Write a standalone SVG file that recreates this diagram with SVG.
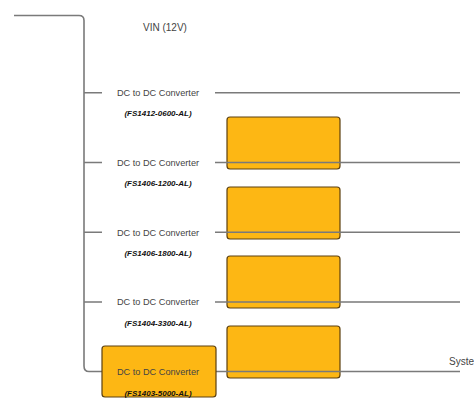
<svg xmlns="http://www.w3.org/2000/svg" width="474" height="412" viewBox="0 0 474 412">
<style>
.ln{fill:none;stroke:#7a7a7a;stroke-width:1.6}
.box{fill:#fdb714;stroke:#5c4010;stroke-width:1.2}
.t{font-family:"Liberation Sans",Arial,sans-serif;font-size:9.2px;fill:#444;text-anchor:middle}
.s{font-family:"Liberation Sans",Arial,sans-serif;font-size:8px;font-weight:bold;font-style:italic;fill:#111;text-anchor:middle}
.v{font-family:"Liberation Sans",Arial,sans-serif;font-size:10px;fill:#444}
</style>
<rect width="474" height="412" fill="#fff"/>
<g id="out-boxes">
<rect id="b1" class="box" x="227" y="117" width="113" height="52" rx="3"/>
<rect id="b2" class="box" x="227" y="187" width="113" height="52" rx="3"/>
<rect id="b3" class="box" x="227" y="256" width="113" height="52" rx="3"/>
<rect id="b4" class="box" x="227" y="326" width="113" height="52" rx="3"/>
</g>
<g id="connectors">
<path class="ln" d="M14 15.5 H79 Q84 15.5 84 20.5 V366 Q84 371.5 89 371.5 H102"/>
<path class="ln" d="M84 92.8 H102 M215 92.8 H460"/>
<path class="ln" d="M84 162.5 H102 M215 162.5 H460"/>
<path class="ln" d="M84 232.3 H102 M215 232.3 H460"/>
<path class="ln" d="M84 302 H102 M215 302 H460"/>
<path class="ln" d="M216 371.5 H460"/>
</g>
<text class="v" x="143" y="31">VIN (12V)</text>
<g id="n1"><text class="t" x="158" y="96">DC to DC Converter</text><text class="s" x="158" y="116">(FS1412-0600-AL)</text></g>
<g id="n2"><text class="t" x="158" y="166">DC to DC Converter</text><text class="s" x="158" y="186">(FS1406-1200-AL)</text></g>
<g id="n3"><text class="t" x="158" y="235.5">DC to DC Converter</text><text class="s" x="158" y="256">(FS1406-1800-AL)</text></g>
<g id="n4"><text class="t" x="158" y="305">DC to DC Converter</text><text class="s" x="158" y="326">(FS1404-3300-AL)</text></g>
<g id="n5"><rect class="box" x="102" y="346" width="114" height="51" rx="3"/><text class="t" x="158" y="374.5">DC to DC Converter</text><text class="s" x="158" y="395.5">(FS1403-5000-AL)</text></g>
<text class="v" x="449" y="364.5">Syste</text>
</svg>
